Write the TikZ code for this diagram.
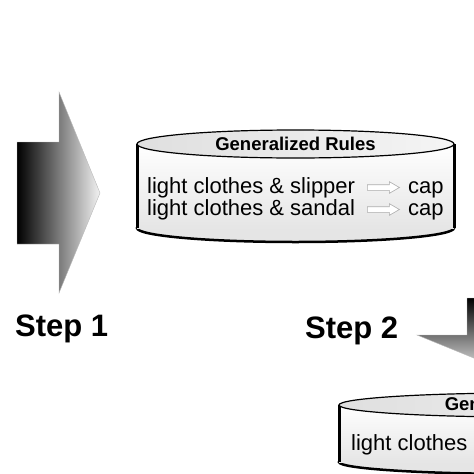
\documentclass[tikz,border=0pt]{standalone}
\usepackage{fontspec}
\setmainfont{Liberation Sans}
\usetikzlibrary{shapes.arrows}
\begin{document}
\begin{tikzpicture}[x=1pt, y=-1pt,
rim/.style={draw=black, line width=1.2pt},
wall/.style={draw=black, line width=3pt},
rule/.style={font=\fontsize{22}{22}\selectfont, inner sep=0pt, anchor=base west},
ruletitle/.style={font=\fontsize{18.5}{18}\selectfont\bfseries, inner sep=0pt, anchor=base},
steplabel/.style={font=\fontsize{31}{31}\selectfont\bfseries, inner sep=0pt, anchor=base west},
implies/.style={shape=single arrow, draw=gray!65, fill=white, line width=0.6pt, minimum height=32pt, inner xsep=0pt, inner ysep=2.5pt, text height=0pt, text depth=0pt, single arrow head extend=3pt, single arrow tip angle=60}]
\useasboundingbox (0,0) rectangle (474,474);
\clip (0,0) rectangle (474,474);
\path[draw=gray!55, line width=0.4pt, left color=black, right color=gray!10]
(17,142) -- (59,142) -- (59,92) -- (100,193) -- (59,293) -- (59,244) -- (17,244) -- cycle;
\path[draw=gray!55, line width=0.4pt, top color=black, bottom color=gray!10]
(467,298) -- (569,298) -- (569,335) -- (619,335) -- (518,376) -- (417,335) -- (467,335) -- cycle;
\path[fill=gray!20, draw=black, line width=2.5pt] (295.5,228) ellipse [x radius=158.5, y radius=14];
\path[top color=white, bottom color=gray!20] (137,144) rectangle (454,228);
\draw[wall] (137,144) -- (137,228) (454,144) -- (454,228);
\path[rim, left color=gray!25, right color=gray!8] (295.5,144) ellipse [x radius=158.5, y radius=14];
\node[ruletitle] (title1) at (295.5,150) {Generalized Rules};
\node[rule] (rule1a) at (147,193) {light clothes \& slipper};
\node[rule] (rule1b) at (147,215) {light clothes \& sandal};
\node[implies] (imp1a) at (381,187.5) {};
\node[implies] (imp1b) at (381,209.5) {};
\node[rule] (cap1a) at (408,193) {cap};
\node[rule] (cap1b) at (408,215) {cap};
\path[fill=gray!20, draw=black, line width=2.5pt] (525,462) ellipse [x radius=186, y radius=12];
\path[top color=white, bottom color=gray!20] (339,405) rectangle (711,462);
\draw[wall] (339,405) -- (339,462);
\path[rim, left color=gray!25, right color=gray!8] (525,405) ellipse [x radius=186, y radius=12];
\node[ruletitle] (title2) at (525,410) {Generalized Rules};
\node[rule] (rule2a) at (351,450) {light clothes \&};
\node[steplabel] (step1) at (15,336) {Step 1};
\node[steplabel] (step2) at (305,338) {Step 2};
\end{tikzpicture}
\end{document}
